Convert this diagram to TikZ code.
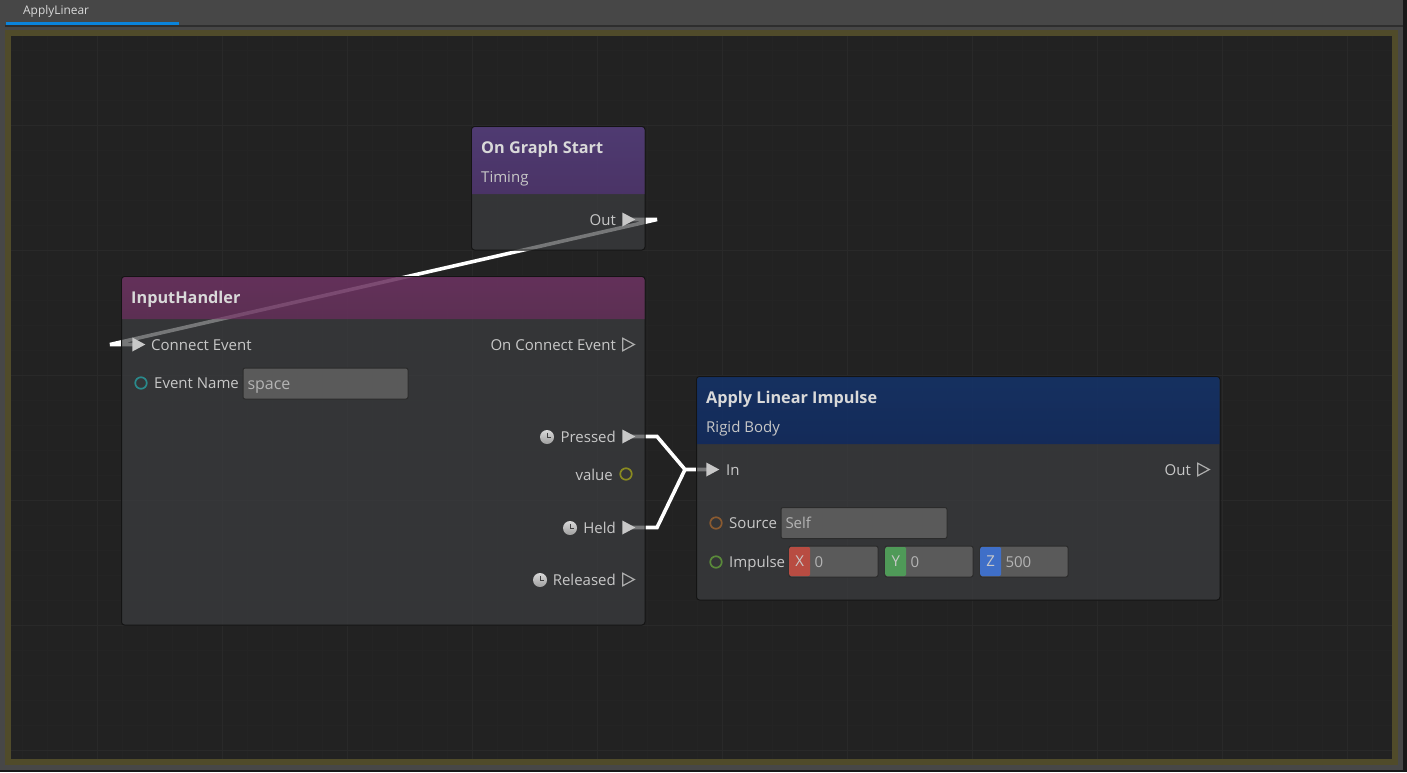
\documentclass[tikz,border=0pt]{standalone}
\usepackage{fontspec}
\setmainfont{Open Sans}
\usetikzlibrary{shapes.geometric}
\definecolor{framegray}{HTML}{474747}
\definecolor{framedark}{HTML}{2E2E2E}
\definecolor{tabblue}{HTML}{0A84DC}
\definecolor{frameolive}{HTML}{504B2A}
\definecolor{canvas}{HTML}{222222}
\definecolor{gridminor}{HTML}{242424}
\definecolor{gridmajor}{HTML}{292929}
\definecolor{bodyfill}{HTML}{3C3E40}
\definecolor{bodyedge}{HTML}{141414}
\definecolor{labeltext}{HTML}{C8C8C8}
\definecolor{fieldfill}{HTML}{5A5A5A}
\definecolor{fieldedge}{HTML}{2B2B2B}
\definecolor{fieldtext}{HTML}{B4B4B4}
\definecolor{startlight}{HTML}{613F99}
\definecolor{startdark}{HTML}{5A3386}
\definecolor{inputlight}{HTML}{832E71}
\definecolor{inputdark}{HTML}{772C66}
\definecolor{applylight}{HTML}{012E7C}
\definecolor{applydark}{HTML}{002470}
\definecolor{tealpin}{HTML}{2A8A8C}
\definecolor{olivepin}{HTML}{8A8A20}
\definecolor{brownpin}{HTML}{8A5A30}
\definecolor{greenpin}{HTML}{5A8A3A}
\definecolor{tagred}{HTML}{B84C42}
\definecolor{taggreen}{HTML}{4F9A58}
\definecolor{tagblue}{HTML}{3F6FC8}
\pgfdeclarelayer{gridlayer}
\pgfdeclarelayer{wirelayer}
\pgfdeclarelayer{bodylayer}
\pgfsetlayers{gridlayer,wirelayer,bodylayer,main}
\tikzset{
  nodebody/.style={draw=bodyedge,line width=1pt,fill=bodyfill,fill opacity=0.7,rounded corners=3pt},
  headfill/.style 2 args={top color=#1,bottom color=#2,fill opacity=0.6,draw=none},
  titletext/.style={anchor=base west,inner sep=0pt,font=\fontsize{16.25}{19}\selectfont\bfseries,text=white!85!black},
  subtext/.style={anchor=base west,inner sep=0pt,font=\fontsize{15}{17}\selectfont,text=white!78!black},
  pinleft/.style={anchor=base west,inner sep=0pt,font=\fontsize{15}{17}\selectfont,text=labeltext},
  pinright/.style={anchor=base east,inner sep=0pt,font=\fontsize{15}{17}\selectfont,text=labeltext},
  flowpin/.style={isosceles triangle,isosceles triangle stretches,shape border rotate=0,inner sep=0pt,outer sep=0pt,minimum width=14pt,minimum height=13pt},
  flowon/.style={flowpin,fill=labeltext},
  flowoff/.style={flowpin,draw=white!68!black,line width=1.2pt,minimum width=12.5pt,minimum height=11.5pt},
  datapin/.style={circle,draw=#1,line width=1.7pt,fill=none,inner sep=0pt,minimum size=11.5pt},
  fieldbox/.style={draw=fieldedge,line width=1pt,fill=fieldfill,rounded corners=2pt,anchor=west,inner xsep=4.5pt,inner ysep=0pt,minimum height=31pt,align=left,text height=13pt,text depth=2pt,text=fieldtext,font=\fontsize{15}{17}\selectfont},
  tagbox/.style={fill=#1,rounded corners=2pt,anchor=west,inner sep=0pt,minimum width=21pt,minimum height=29pt,text=labeltext,font=\fontsize{15}{17}\selectfont},
  wireline/.style={draw=white,line width=3.6pt,line join=miter},
  clockicon/.pic={
    \path[top color=white!85!black,bottom color=white!62!black] (0,0) circle (7);
    \draw[black!75,line width=1pt] (0,-4) -- (0,0) -- (4,0);
  }
}
\begin{document}
\begin{tikzpicture}[x=1pt,y=-1pt]
  \useasboundingbox (0,0) rectangle (1407,772);
  \begin{pgfonlayer}{gridlayer}
    \fill[black!90!white] (0,0) rectangle (1407,772);
    \fill[framegray] (0,0) rectangle (1403,770);
    \fill[framedark] (5,25) rectangle (1403,27);
    \fill[tabblue] (6,22) rectangle (179,25);
    \fill[frameolive] (5,30) rectangle (1398,765);
    \fill[canvas] (11,36) rectangle (1392,759);
    \begin{scope}
      \clip (11,36) rectangle (1392,759);
      \foreach \gx in {22,47,...,1392} \draw[gridminor,line width=1pt] (\gx,36) -- (\gx,759);
      \foreach \gy in {50,75,...,759} \draw[gridminor,line width=1pt] (11,\gy) -- (1392,\gy);
      \foreach \gx in {97,222,...,1392} \draw[gridmajor,line width=1pt] (\gx,36) -- (\gx,759);
      \foreach \gy in {125,250,...,759} \draw[gridmajor,line width=1pt] (11,\gy) -- (1392,\gy);
    \end{scope}
  \end{pgfonlayer}
  \node[anchor=base west,inner sep=0pt,font=\fontsize{11.9}{14}\selectfont,text=white!85!black] (tabname) at (23,14) {ApplyLinear};

  \begin{pgfonlayer}{bodylayer}
    \path[nodebody] (471.5,126.5) rectangle (645,250);
    \path[nodebody] (121.5,276.5) rectangle (645,625);
    \path[nodebody] (696.5,376.5) rectangle (1220,600);
    \path[headfill={startlight}{startdark}] (472,194) [rounded corners=3pt] -- (472,127) -- (644.5,127) [sharp corners] -- (644.5,194) -- cycle;
    \path[headfill={inputlight}{inputdark}] (122,319) [rounded corners=3pt] -- (122,277) -- (644.5,277) [sharp corners] -- (644.5,319) -- cycle;
    \path[headfill={applylight}{applydark}] (697,444) [rounded corners=3pt] -- (697,377) -- (1219.5,377) [sharp corners] -- (1219.5,444) -- cycle;
  \end{pgfonlayer}

  \node[titletext] (starttitle) at (481,153) {On Graph Start};
  \node[subtext] (startsub) at (481,182) {Timing};
  \node[pinright] (startoutlabel) at (616,225) {Out};
  \node[flowon] (startout) at (626.5,219.5) {};

  \node[titletext] (inputtitle) at (131,303) {InputHandler};
  \node[flowon] (connectpin) at (136.5,344.5) {};
  \node[pinleft] (connectlabel) at (151,350) {Connect Event};
  \node[pinright] (onconnectlabel) at (616,350) {On Connect Event};
  \node[flowoff] (onconnectpin) at (626.5,344.5) {};
  \node[datapin=tealpin] (eventpin) at (141,383) {};
  \node[pinleft] (eventlabel) at (154,388) {Event Name};
  \node[fieldbox,text width=156pt,font=\fontsize{16}{19}\selectfont] (eventfield) at (242.5,383.5) {space};
  \pic at (547,437) {clockicon};
  \node[pinright] (pressedlabel) at (616,442) {Pressed};
  \node[flowon] (pressedpin) at (626.5,436.5) {};
  \node[pinright] (valuelabel) at (613,480) {value};
  \node[datapin=olivepin] (valuepin) at (626,474) {};
  \pic at (570,528) {clockicon};
  \node[pinright] (heldlabel) at (616,533) {Held};
  \node[flowon] (heldpin) at (626.5,527.5) {};
  \pic at (540,580) {clockicon};
  \node[pinright] (releasedlabel) at (616,585) {Released};
  \node[flowoff] (releasedpin) at (626.5,579.5) {};

  \node[titletext] (applytitle) at (706,403) {Apply Linear Impulse};
  \node[subtext] (applysub) at (706,432) {Rigid Body};
  \node[flowon] (applyin) at (710.5,469.5) {};
  \node[pinleft] (applyinlabel) at (726,475) {In};
  \node[pinright] (applyoutlabel) at (1191,475) {Out};
  \node[flowoff] (applyout) at (1201.5,469.5) {};
  \node[datapin=brownpin] (sourcepin) at (716,523) {};
  \node[pinleft] (sourcelabel) at (729,528) {Source};
  \node[fieldbox,text width=157pt] (sourcefield) at (780.5,523) {Self};
  \node[datapin=greenpin] (impulsepin) at (716,562) {};
  \node[pinleft] (impulselabel) at (729,567) {Impulse};
  \node[fieldbox,text width=80pt] (xfield) at (788.5,561.5) {\hspace*{21pt}0};
  \node[tagbox=tagred] (xtag) at (789,561.5) {X};
  \node[fieldbox,text width=79pt] (yfield) at (884.5,561.5) {\hspace*{21pt}0};
  \node[tagbox=taggreen] (ytag) at (885,561.5) {Y};
  \node[fieldbox,text width=79pt] (zfield) at (979.5,561.5) {\hspace*{21pt}500};
  \node[tagbox=tagblue] (ztag) at (980,561.5) {Z};

  \coordinate (startbend) at (657,219.5);
  \coordinate (connectbend) at (110,344.5);
  \coordinate (pressedbend) at (657,436.5);
  \coordinate (heldbend) at (657,527.5);
  \coordinate (joinpoint) at (685,469.5);
  \begin{pgfonlayer}{wirelayer}
    \draw[wireline,line join=bevel] (startout.center) -- (startbend) -- (connectbend) -- (connectpin.center);
    \draw[wireline] (pressedpin.center) -- (pressedbend) -- (joinpoint) -- (applyin.center);
    \draw[wireline] (heldpin.center) -- (heldbend) -- (joinpoint);
  \end{pgfonlayer}
\end{tikzpicture}
\end{document}
